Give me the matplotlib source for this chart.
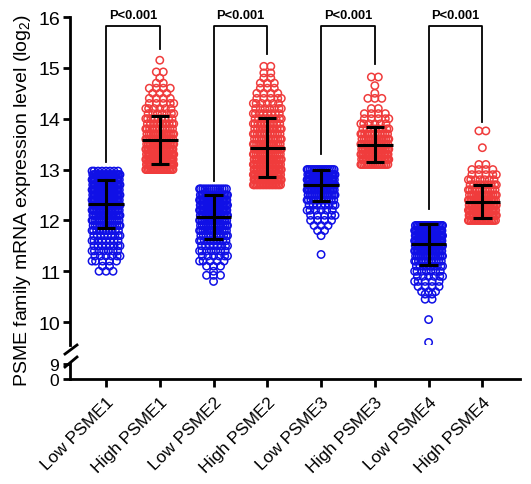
import numpy as np
import matplotlib.pyplot as plt

plt.rcParams['font.family'] = ['Liberation Sans', 'DejaVu Sans']

groups = ['Low PSME1', 'High PSME1', 'Low PSME2', 'High PSME2',
          'Low PSME3', 'High PSME3', 'Low PSME4', 'High PSME4']

low1_vals = [11.0, 11.1, 11.2, 11.3, 11.4, 11.5, 11.6, 11.7, 11.8, 11.9, 12.0,
             12.1, 12.2, 12.3, 12.4, 12.5, 12.6, 12.7, 12.8, 12.9, 12.97]
low1_cnts = [3, 2, 5, 6, 7, 8, 8, 9, 10, 14, 16, 18, 20, 20, 22, 22, 22, 22, 22, 20, 8]

high1_vals = [13.0, 13.1, 13.2, 13.3, 13.4, 13.5, 13.6, 13.7, 13.8, 13.9, 14.0,
              14.1, 14.2, 14.3, 14.4, 14.5, 14.6, 14.7, 14.8, 14.92, 15.15]
high1_cnts = [20, 24, 24, 22, 20, 18, 16, 14, 12, 10, 9, 7, 6, 5, 4, 3, 4, 2, 1, 2, 1]

low2_vals = [10.8, 10.92, 11.0, 11.1, 11.2, 11.3, 11.4, 11.5, 11.6, 11.7, 11.8,
             11.9, 12.0, 12.1, 12.2, 12.3, 12.4, 12.5, 12.62]
low2_cnts = [1, 3, 1, 3, 5, 6, 7, 8, 10, 12, 14, 16, 18, 20, 22, 22, 22, 20, 14]

high2_vals = [12.7, 12.8, 12.9, 13.0, 13.1, 13.2, 13.3, 13.4, 13.5, 13.6, 13.7,
              13.8, 13.9, 14.0, 14.1, 14.2, 14.3, 14.4, 14.5, 14.6, 14.7, 14.8,
              14.9, 15.03]
high2_cnts = [20, 22, 22, 20, 20, 18, 16, 15, 14, 13, 12, 11, 10, 9, 8, 7, 6, 5,
              4, 3, 3, 2, 2, 2]

low3_vals = [11.33, 11.7, 11.8, 11.9, 12.0, 12.1, 12.2, 12.3, 12.4, 12.5, 12.6,
             12.7, 12.8, 12.9, 13.0]
low3_cnts = [1, 1, 2, 3, 4, 5, 6, 8, 12, 16, 20, 22, 22, 22, 16]

high3_vals = [13.1, 13.2, 13.3, 13.4, 13.5, 13.6, 13.7, 13.8, 13.9, 14.0, 14.1,
              14.2, 14.4, 14.5, 14.65, 14.82]
high3_cnts = [16, 20, 20, 18, 16, 14, 12, 8, 6, 5, 4, 2, 3, 1, 1, 2]

low4_vals = [9.6, 10.05, 10.45, 10.55, 10.6, 10.7, 10.8, 10.9, 11.0, 11.1, 11.2,
             11.3, 11.4, 11.5, 11.6, 11.7, 11.8, 11.9]
low4_cnts = [1, 1, 2, 2, 3, 4, 5, 6, 7, 9, 12, 16, 20, 22, 24, 24, 24, 20]

high4_vals = [12.0, 12.1, 12.2, 12.3, 12.4, 12.5, 12.6, 12.7, 12.8, 12.9, 13.0,
              13.1, 13.43, 13.76]
high4_cnts = [18, 22, 22, 20, 18, 14, 12, 9, 7, 5, 4, 2, 1, 2]

# mean and SD bars as shown
means = [12.33, 13.58, 12.07, 13.43, 12.69, 13.49, 11.53, 12.37]
sds = [0.47, 0.47, 0.43, 0.58, 0.30, 0.34, 0.40, 0.33]

# comparison brackets: bottom of left leg, bottom of right leg
p_text = ['P<0.001', 'P<0.001', 'P<0.001', 'P<0.001']
bracket_top = 15.83
bracket_left = [13.15, 12.78, 13.30, 12.22]
bracket_right = [15.37, 15.27, 15.07, 13.93]

all_vals = [low1_vals, high1_vals, low2_vals, high2_vals,
            low3_vals, high3_vals, low4_vals, high4_vals]
all_cnts = [low1_cnts, high1_cnts, low2_cnts, high2_cnts,
            low3_cnts, high3_cnts, low4_cnts, high4_cnts]

blue = '#1010e6'
red = '#f03c3c'


def swarm(center, vals, cnts, step=0.13, half=0.26):
    xs, ys = [], []
    for r, (v, n) in enumerate(zip(vals, cnts)):
        if n == 1:
            offs = np.array([0.0])
        else:
            sp = min(step, 2 * half / (n - 1))
            offs = (np.arange(n) - (n - 1) / 2) * sp
            # stagger alternate rows a little so the swarm is less grid-like
            if n >= 5:
                offs = np.clip(offs + (sp / 2 if r % 2 else -sp / 2), -half, half)
        xs.extend(center + offs)
        ys.extend([v] * n)
    return np.array(xs), np.array(ys)


fig = plt.figure(figsize=(5.31, 4.85), dpi=100)
W, H = 531, 485
left, right = 70 / W, 520 / W
ax = fig.add_axes([left, 1 - 346 / H, right - left, (346 - 18) / H])
ax2 = fig.add_axes([left, 1 - 380 / H, right - left, 16 / H])

for i, (vals, cnts) in enumerate(zip(all_vals, all_cnts)):
    col = blue if i % 2 == 0 else red
    x, y = swarm(i, vals, cnts)
    ax.scatter(x, y, s=28, facecolors='none', edgecolors=col, linewidths=1.1, zorder=2)
    # mean line and SD bar
    ax.plot([i - 0.33, i + 0.33], [means[i]] * 2, color='black', lw=2.2, zorder=3,
            solid_capstyle='butt')
    ax.plot([i, i], [means[i] - sds[i], means[i] + sds[i]], color='black', lw=2.2, zorder=3)
    for yy in (means[i] - sds[i], means[i] + sds[i]):
        ax.plot([i - 0.17, i + 0.17], [yy, yy], color='black', lw=2.2, zorder=3,
                solid_capstyle='butt')

for k in range(4):
    xl, xr = 2 * k, 2 * k + 1
    ax.plot([xl, xl, xr, xr], [bracket_left[k], bracket_top, bracket_top, bracket_right[k]],
            color='black', lw=1.3, clip_on=False, zorder=4)
    ax.text((xl + xr) / 2, 16.03, p_text[k], ha='center', va='center',
            fontsize=9.3, fontweight='bold', clip_on=False)

xlim = (-0.67, 7.7)
ax.set_xlim(*xlim)
ax.set_ylim(9.55, 16)
ax.set_yticks([10, 11, 12, 13, 14, 15, 16])
ax.set_xticks([])
for s in ('top', 'right', 'bottom'):
    ax.spines[s].set_visible(False)
ax.spines['left'].set_linewidth(2)
ax.tick_params(axis='y', width=2, length=5, labelsize=14, pad=2)

ax2.set_xlim(*xlim)
ax2.set_ylim(0, 9.5)
ax2.set_yticks([0, 9])
ax2.set_xticks(range(len(groups)))
ax2.set_xticklabels(groups, rotation=45, ha='right', va='top', rotation_mode='anchor',
                    fontsize=12.5)
for s in ('top', 'right'):
    ax2.spines[s].set_visible(False)
ax2.spines['left'].set_linewidth(2)
ax2.spines['bottom'].set_linewidth(2)
ax2.tick_params(axis='y', width=2, length=5, labelsize=12.5, pad=3)
ax2.tick_params(axis='x', width=2, length=6, pad=5)

# axis break marks
for y0, y1 in ((355, 346), (368, 358)):
    fig.add_artist(plt.Line2D([65 / W, 77 / W], [1 - y0 / H, 1 - y1 / H],
                              color='black', lw=2))

fig.text(23 / W, 1 - 200 / H, 'PSME family mRNA expression level (log$\\mathregular{_2}$)',
         rotation=90, ha='center', va='center', fontsize=14)

fig.savefig('out.png', dpi=100)
